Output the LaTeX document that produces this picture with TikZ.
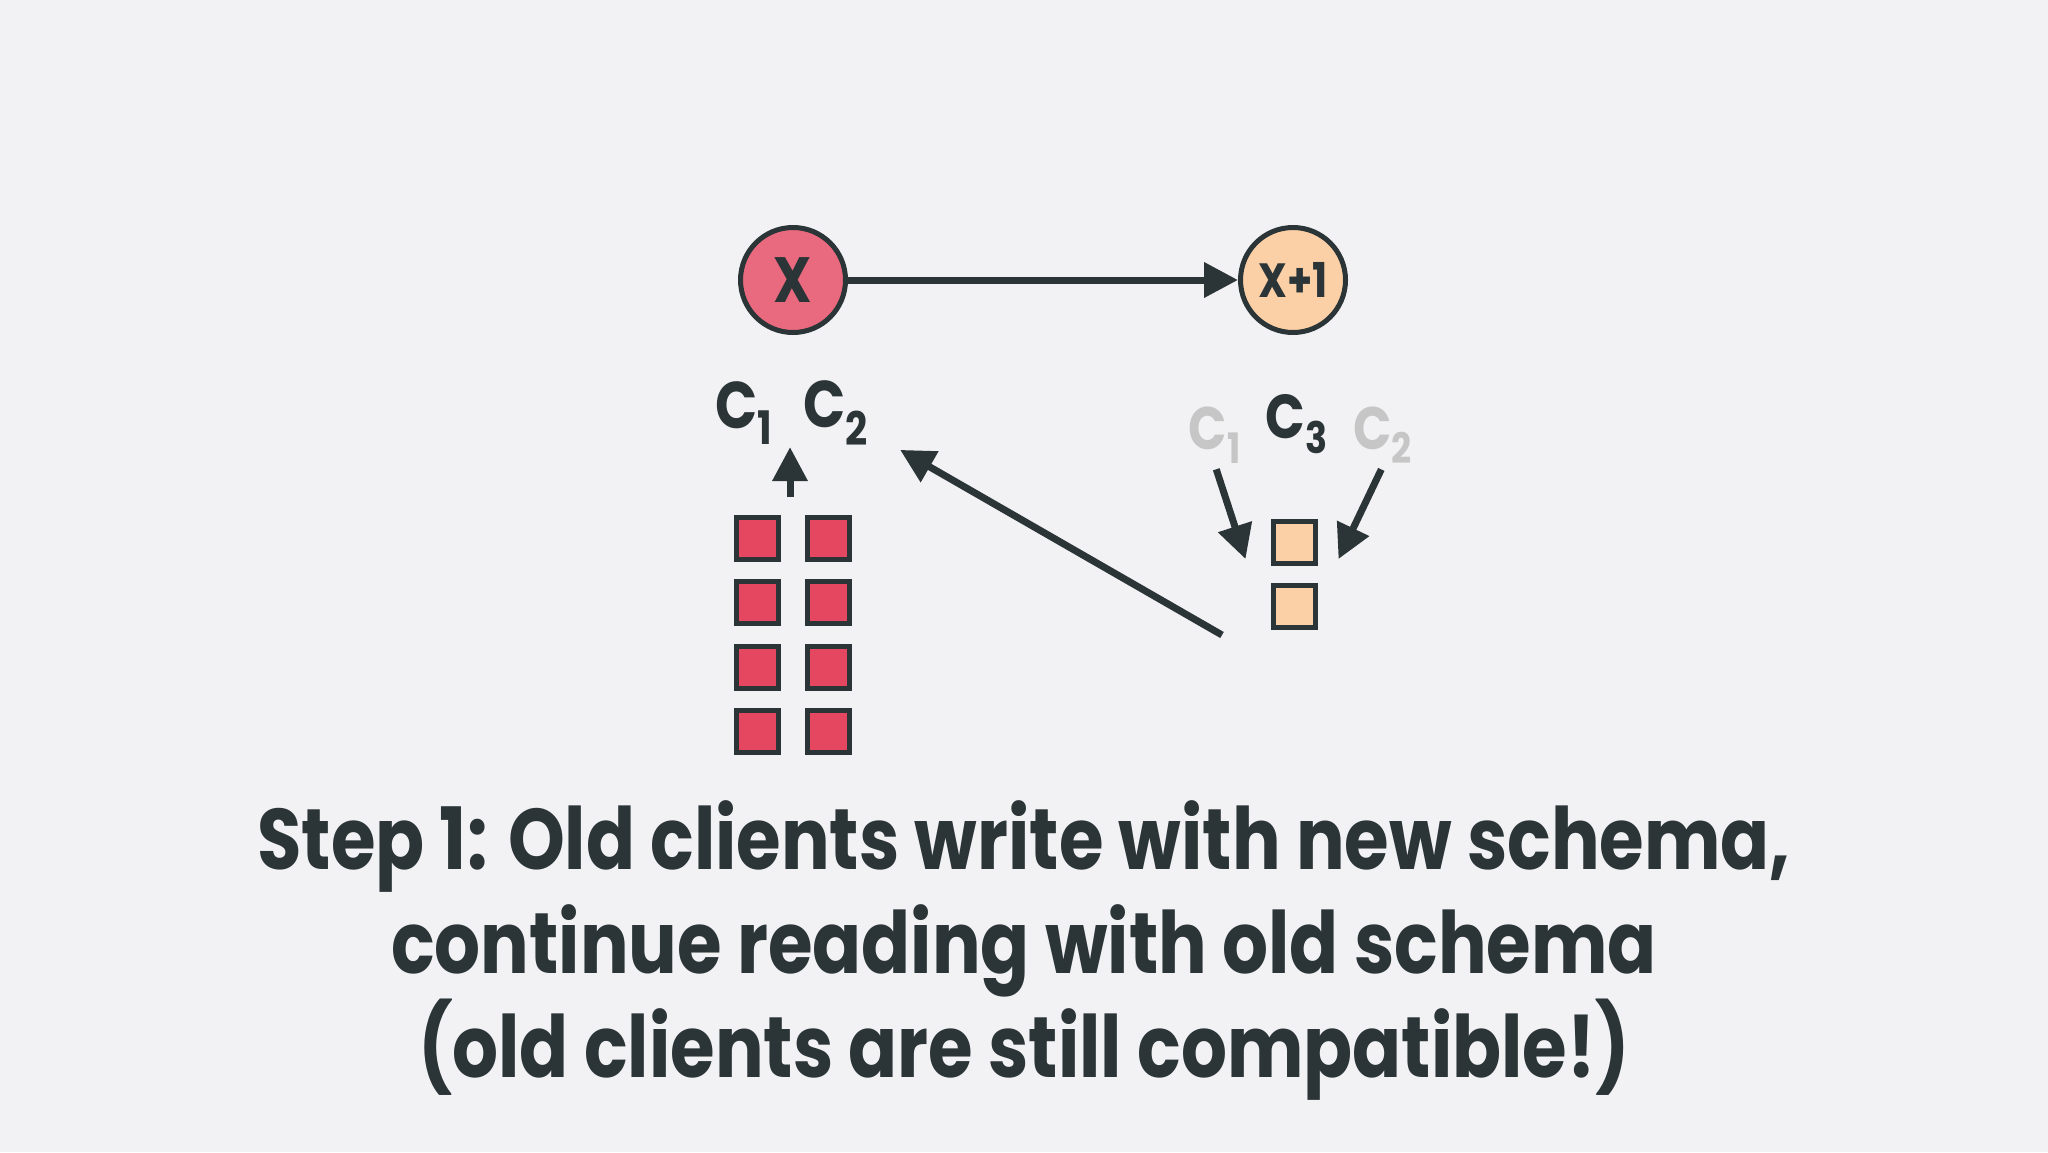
\documentclass[tikz,border=0pt]{standalone}
\usepackage{fontspec}
\usepackage{tikz}
\usetikzlibrary{arrows.meta, positioning, calc}
\newfontfamily\spartan{Poppins Bold}[FakeStretch=0.84]

\definecolor{ink}{HTML}{2B3436}
\definecolor{paper}{HTML}{F2F2F4}
\definecolor{oldred}{HTML}{E96A7E}
\definecolor{rowred}{HTML}{E54760}
\definecolor{peach}{HTML}{FCD0A6}
\definecolor{faded}{HTML}{C6C6C6}

\begin{document}
\begin{tikzpicture}[x=0.5pt, y=-0.5pt,
                version/.style={circle, draw=ink, line width=2.5pt, minimum size=52.5pt,
                               inner sep=0pt, text=ink, font=\spartan\fontsize{32}{34}\selectfont},
                record/.style={draw=ink, line width=2.5pt, minimum size=21pt, inner sep=0pt},
                client/.style={inner sep=1pt, text=ink, font=\spartan\fontsize{33}{34}\selectfont},
                connection/.style={-{Triangle[length=17pt, width=17pt]}, line width=3.5pt, ink}]

                % background and margins
                \fill[paper] (0,0) rectangle (2048,1152);

                % schema versions
                \node[version, fill=oldred] (x) at (793,280) {X};
                \node[version, fill=peach, font=\spartan\fontsize{24}{26}\selectfont] (xnext) at (1293,280) {X+1};
                \draw[connection] (x) -- (xnext);

                % records written with the old schema
                \node[record, fill=rowred] (sq1a) at (757.5,538.5) {};
                \node[record, fill=rowred, right=12pt of sq1a] (sq1b) {};
                \node[record, fill=rowred, below=8.7pt of sq1a] (sq2a) {};
                \node[record, fill=rowred, below=8.7pt of sq1b] (sq2b) {};
                \node[record, fill=rowred, below=8.7pt of sq2a] (sq3a) {};
                \node[record, fill=rowred, below=8.7pt of sq2b] (sq3b) {};
                \node[record, fill=rowred, below=8.7pt of sq3a] (sq4a) {};
                \node[record, fill=rowred, below=8.7pt of sq3b] (sq4b) {};

                % old clients
                \node[client] (lc1) at (744,413) {C\textsubscript{1}};
                \node[client] (lc2) at (836,413) {C\textsubscript{2}};
                \coordinate (gtop) at (790,497);
                \draw[connection] (gtop) -- (gtop |- lc1.south);

                % records written with the new schema
                \node[record, fill=peach] (rsq1) at (1294,542) {};
                \node[record, fill=peach, below=8.7pt of rsq1] (rsq2) {};

                % clients writing the new records
                \node[client, text=faded, font=\spartan\fontsize{30}{31}\selectfont] (rc1) at (1215,435) {C\textsubscript{1}};
                \node[client, font=\spartan\fontsize{31}{32}\selectfont] (rc3) at (1297,424) {C\textsubscript{3}};
                \node[client, text=faded, font=\spartan\fontsize{30}{31}\selectfont] (rc2) at (1383,435) {C\textsubscript{2}};
                \draw[connection, shorten <=2pt] (rc1.south) -- ([shift={(-12.5pt,-8.5pt)}]rsq1.west);
                \draw[connection, shorten <=2pt] (rc2.south) -- ([shift={(10.5pt,-8.5pt)}]rsq1.east);

                % old clients read the new records
                \coordinate (src) at (1222,635);
                \draw[connection, shorten >=37pt] (src) -- (lc2.center);

                % caption
                \node[text=ink, align=center, font=\spartan\fontsize{43}{52}\selectfont] (caption) at (1024,950)
                    {Step 1: Old clients write with new schema,\\
                     continue reading with old schema\\
                     (old clients are still compatible!)};
            \end{tikzpicture}
\end{document}
